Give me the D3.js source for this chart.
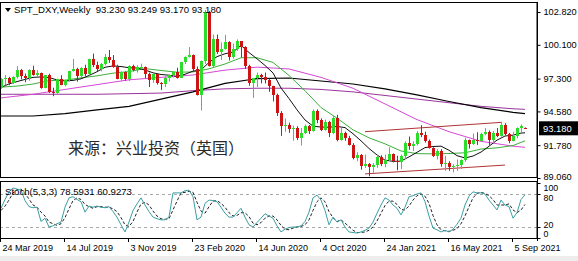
<!DOCTYPE html>
<html>
<head>
<meta charset="utf-8">
<script src="https://cdn.jsdelivr.net/npm/d3@7"></script>
<style>
  html, body { margin: 0; padding: 0; background: #fff; }
  svg { display: block; font-family: "Liberation Sans", Arial, sans-serif; }
</style>
</head>
<body>
<svg id="chart" width="578" height="261"></svg>
<script>
// weekly bars, first bar = week starting Sun 24 Mar 2019
const firstWeek = new Date(2019, 2, 24);

const opens = [
  96.62, 97.27, 97.39, 96.93, 97.40, 98.01, 97.49, 97.33, 97.99, 97.61,
  97.75, 96.53, 97.57, 96.21, 96.13, 97.29, 96.80, 97.16, 97.92, 98.09,
  97.50, 98.15, 97.66, 98.92, 98.40, 98.08, 98.52, 99.13, 98.83, 98.30,
  97.28, 97.83, 97.25, 98.35, 97.99, 98.27, 98.27, 97.68, 97.18, 97.66,
  96.93, 96.84, 97.36, 97.58, 97.87, 97.39, 98.69, 99.11, 99.26, 98.13,
  95.97, 98.75, 102.82, 98.37, 100.61, 99.52, 99.76, 100.37, 99.07, 99.74,
  100.38, 99.88, 98.34, 96.94, 97.33, 97.62, 97.43, 97.20, 96.65, 95.94,
  94.44, 93.35, 93.44, 93.09, 93.24, 92.36, 92.82, 93.33, 92.93, 94.64,
  93.84, 93.06, 93.68, 92.77, 94.04, 92.23, 92.77, 92.39, 91.79, 90.70,
  90.98, 90.02, 90.24, 89.94, 90.10, 90.77, 90.23, 90.58, 91.03, 90.48,
  90.35, 90.88, 91.98, 91.68, 91.91, 92.77, 92.59, 92.16, 91.56, 90.86,
  91.28, 90.22, 90.31, 89.98, 90.03, 90.13, 90.55, 92.23, 91.84, 92.23,
  92.12, 92.69, 92.90, 92.17, 92.78, 92.52, 93.49, 92.68, 92.13, 92.58,
  93.20, 93.23
];
const highs = [
  97.35, 97.60, 97.45, 97.50, 98.33, 98.10, 97.72, 98.07, 98.37, 98.00,
  97.80, 97.60, 97.70, 96.55, 97.30, 97.58, 97.20, 97.95, 98.93, 98.20,
  98.25, 98.45, 98.95, 99.37, 98.70, 98.60, 99.35, 99.67, 99.25, 98.45,
  97.90, 97.90, 98.40, 98.45, 98.40, 98.54, 98.30, 97.80, 97.70, 97.70,
  97.00, 97.50, 97.65, 97.90, 98.20, 98.70, 99.15, 99.91, 99.30, 98.30,
  98.80, 102.99, 102.90, 100.95, 100.95, 100.30, 100.93, 100.40, 100.20, 100.55,
  100.40, 99.98, 98.45, 97.10, 97.80, 97.70, 97.80, 97.30, 96.70, 96.05,
  94.60, 93.99, 93.65, 93.40, 93.35, 93.20, 93.50, 93.45, 94.75, 94.75,
  94.00, 93.90, 93.80, 94.20, 94.30, 93.20, 92.90, 92.55, 91.95, 91.20,
  91.05, 91.00, 90.30, 90.30, 90.95, 90.95, 91.00, 91.60, 91.10, 90.90,
  91.00, 92.10, 92.50, 92.10, 92.95, 93.44, 92.90, 92.25, 91.60, 91.45,
  91.45, 90.90, 90.45, 90.20, 90.60, 90.60, 92.40, 92.25, 92.75, 92.85,
  92.80, 93.20, 93.00, 92.95, 93.20, 93.73, 93.60, 92.80, 92.90, 93.25,
  93.50, 93.249
];
const lows = [
  96.45, 96.75, 96.75, 96.85, 97.30, 97.23, 97.00, 97.12, 97.55, 97.45,
  96.46, 96.50, 96.11, 95.84, 96.05, 96.75, 96.65, 97.05, 97.88, 97.05,
  97.35, 97.50, 97.55, 98.25, 97.90, 97.90, 98.40, 98.60, 98.20, 97.25,
  97.11, 97.12, 97.10, 97.90, 97.80, 98.10, 97.35, 96.60, 96.95, 96.80,
  96.36, 96.60, 97.05, 97.40, 97.30, 97.35, 98.50, 99.05, 97.85, 95.90,
  94.65, 98.50, 98.30, 98.20, 99.35, 98.85, 99.70, 98.80, 98.95, 99.60,
  99.05, 98.10, 96.70, 95.70, 96.60, 96.90, 96.90, 96.20, 95.40, 94.20,
  92.55, 92.90, 92.80, 92.15, 92.20, 91.75, 92.70, 92.70, 92.90, 93.60,
  92.95, 92.98, 92.45, 92.70, 92.10, 92.15, 92.15, 91.75, 90.60, 90.45,
  89.75, 89.90, 89.20, 89.50, 89.90, 90.05, 89.95, 90.45, 90.35, 89.70,
  89.80, 90.65, 91.40, 91.30, 91.75, 92.45, 92.00, 91.50, 90.80, 90.60,
  90.00, 89.65, 89.65, 89.53, 89.65, 89.80, 90.40, 91.50, 91.80, 91.80,
  92.05, 92.60, 91.80, 91.95, 92.45, 92.50, 92.60, 91.94, 92.10, 92.35,
  92.85, 93.17
];
const closes = [
  97.27, 97.39, 96.93, 97.40, 98.01, 97.49, 97.33, 97.99, 97.61, 97.75,
  96.53, 97.57, 96.21, 96.13, 97.29, 96.80, 97.16, 97.92, 98.09, 97.50,
  98.15, 97.66, 98.92, 98.40, 98.08, 98.52, 99.13, 98.83, 98.30, 97.28,
  97.83, 97.25, 98.35, 97.99, 98.27, 98.27, 97.68, 97.18, 97.66, 96.93,
  96.84, 97.36, 97.58, 97.87, 97.39, 98.69, 99.11, 99.26, 98.13, 95.97,
  98.75, 102.82, 98.37, 100.61, 99.52, 99.76, 100.37, 99.07, 99.74, 100.38,
  99.88, 98.34, 96.94, 97.33, 97.62, 97.43, 97.20, 96.65, 95.94, 94.44,
  93.35, 93.44, 93.09, 93.24, 92.36, 92.82, 93.33, 92.93, 94.64, 93.84,
  93.06, 93.68, 92.77, 94.04, 92.23, 92.77, 92.39, 91.79, 90.70, 90.98,
  90.02, 90.24, 89.94, 90.10, 90.77, 90.23, 90.58, 91.03, 90.48, 90.35,
  90.88, 91.98, 91.68, 91.91, 92.77, 92.59, 92.16, 91.56, 90.86, 91.28,
  90.22, 90.31, 89.98, 90.03, 90.13, 90.55, 92.23, 91.84, 92.23, 92.12,
  92.69, 92.90, 92.17, 92.78, 92.52, 93.49, 92.68, 92.13, 92.58, 93.20,
  93.33, 93.18
];

// moving averages: [bar index, value]
const ma10 = [
  [0, 96.57], [2, 96.86], [4, 97.05], [6, 97.23], [8, 97.40], [10, 97.44], [12, 97.39],
  [14, 97.19], [16, 97.10], [18, 97.15], [20, 97.28], [22, 97.56], [24, 97.87], [26, 98.24],
  [28, 98.35], [30, 98.30], [32, 98.20], [34, 98.18], [36, 98.01], [38, 97.78], [40, 97.64],
  [42, 97.58], [44, 97.48], [46, 97.66], [48, 97.92], [50, 98.01], [52, 98.64], [54, 99.12],
  [56, 99.36], [58, 99.50], [60, 100.05], [62, 99.46], [64, 98.94], [66, 98.39], [68, 97.77],
  [70, 96.52], [72, 95.65], [74, 94.71], [76, 93.87], [78, 93.36], [80, 93.28], [82, 93.27],
  [84, 93.33], [86, 93.24], [88, 92.73], [90, 92.14], [92, 91.51], [94, 90.97], [96, 90.54],
  [98, 90.44], [100, 90.46], [102, 90.81], [104, 91.19], [106, 91.58], [108, 91.67], [110, 91.70],
  [112, 91.36], [114, 90.91], [116, 90.72], [118, 90.88], [120, 91.21], [122, 91.69], [124, 92.20],
  [126, 92.54], [128, 92.61], [130, 92.78], [131, 92.81]
];
const ma20 = [
  [0, 96.59], [4, 96.68], [8, 96.85], [12, 97.13], [16, 97.17], [20, 97.36], [24, 97.53],
  [28, 97.75], [32, 97.88], [36, 98.13], [40, 97.97], [44, 97.83], [48, 97.85], [52, 98.11],
  [56, 98.51], [60, 99.03], [64, 99.03], [68, 98.64], [72, 97.56], [76, 96.29], [80, 94.90],
  [84, 94.02], [88, 93.05], [92, 92.39], [96, 91.89], [100, 91.30], [104, 91.08], [108, 91.06],
  [112, 91.09], [116, 91.15], [120, 91.46], [124, 91.56], [128, 91.75], [131, 92.14]
];
const ma50 = [
  [0, 95.70], [8, 96.00], [16, 96.40], [24, 96.80], [32, 97.20], [40, 97.40], [48, 97.60],
  [56, 98.00], [64, 98.25], [72, 98.10], [80, 97.40], [88, 96.50], [96, 95.20], [104, 93.90],
  [112, 92.90], [120, 92.10], [128, 91.70], [131, 91.60]
];
const ma100 = [
  [0, 94.20], [8, 94.20], [16, 94.40], [24, 94.70], [32, 95.00], [40, 95.60], [48, 96.20],
  [56, 96.90], [64, 97.30], [72, 97.35], [80, 97.10], [88, 96.85], [96, 96.45], [104, 95.95],
  [112, 95.40], [120, 94.90], [128, 94.50], [131, 94.40]
];
const ma200 = [
  [0, 96.00], [8, 96.00], [16, 96.00], [24, 96.00], [32, 96.05], [40, 96.10], [48, 96.30],
  [56, 96.45], [64, 96.50], [72, 96.50], [80, 96.40], [88, 96.20], [96, 95.90], [104, 95.60],
  [112, 95.30], [120, 95.00], [128, 94.80], [131, 94.75]
];

// trend channel drawn on the chart: [bar index, price]
const channelUpper = [[91, 92.90], [125, 93.67]];
const channelLower = [[91, 89.40], [126, 90.13]];

// Stoch(5,3,3), main and signal
const stochK = [
  54, 70, 84, 91, 89, 87, 68, 57, 55, 56, 30, 36, 20, 22, 26, 29, 56, 73, 75, 70,
  66, 47, 58, 56, 58, 56, 55, 57, 48, 38, 24, 11, 29, 50, 62, 73, 60, 48, 38, 35,
  33, 33, 38, 82, 82, 82, 86, 87, 75, 33, 38, 63, 69, 68, 66, 56, 45, 38, 38, 46,
  54, 38, 24, 20, 28, 36, 44, 40, 36, 22, 11, 16, 19, 20, 20, 22, 30, 47, 73, 78,
  69, 50, 24, 38, 29, 33, 20, 11, 10, 9, 11, 14, 18, 29, 45, 60, 73, 69, 60, 54,
  42, 56, 75, 77, 80, 82, 66, 40, 18, 15, 11, 14, 11, 16, 25, 36, 60, 76, 84, 82,
  82, 80, 69, 60, 51, 69, 60, 57, 36, 46, 70, 78.59
];
const stochD = [
  50, 58, 69, 82, 88, 89, 81, 71, 60, 56, 47, 40, 29, 26, 23, 26, 37, 53, 68, 73,
  70, 61, 57, 54, 57, 57, 56, 56, 53, 48, 37, 24, 21, 30, 47, 62, 65, 60, 49, 40,
  35, 34, 35, 51, 67, 82, 83, 85, 83, 65, 49, 45, 57, 67, 68, 63, 56, 46, 40, 41,
  46, 46, 39, 27, 24, 28, 36, 40, 40, 33, 23, 16, 15, 18, 20, 21, 24, 33, 50, 66,
  73, 66, 48, 37, 30, 33, 27, 21, 14, 10, 10, 11, 14, 20, 31, 45, 59, 67, 67, 61,
  52, 51, 58, 69, 77, 80, 76, 63, 41, 24, 15, 13, 12, 14, 17, 26, 40, 57, 73, 81,
  83, 81, 77, 70, 60, 60, 60, 62, 51, 46, 51, 60.93
];

const priceTicks = [89.06, 91.78, 94.58, 97.30, 100.10, 102.82];
const stochTicks = [100, 80, 20, 0];
const stochLevels = [80, 20];
const dateTicks = ["24 Mar 2019", "14 Jul 2019", "3 Nov 2019", "23 Feb 2020", "14 Jun 2020",
  "4 Oct 2020", "24 Jan 2021", "16 May 2021", "5 Sep 2021"];
const lastPrice = 93.18;
const title = "SPT_DXY,Weekly  93.230 93.249 93.170 93.180";
const stochTitle = "Stoch(5,3,3) 78.5931 60.9273";
const sourceNote = "来源：兴业投资（英国）";

// layout
const W = 578, H = 261;
const plotRight = 537;
const main = { top: 2, bottom: 177 };
const sub = { top: 181, bottom: 238 };

const svg = d3.select("#chart");

const weeks = d3.timeWeek.range(firstWeek, d3.timeWeek.offset(firstWeek, closes.length));
const bars = weeks.map((d, i) => ({ date: d, o: opens[i], h: highs[i], l: lows[i], c: closes[i] }));

const x = d3.scaleBand()
  .domain(weeks)
  .range([-1, -1 + 4 * weeks.length]);
const cx = d => x(d) + x.bandwidth() / 2;
const cxi = i => cx(weeks[i]);

const y = d3.scaleLinear().domain([89.06, 102.82]).range([178, 12]);
const ys = d3.scaleLinear().domain([0, 100]).range([238, 183]);

// background + bottom strip
svg.append("rect").attr("width", W).attr("height", H).attr("fill", "#fff");
svg.append("rect").attr("x", 0).attr("y", 256).attr("width", W).attr("height", 5).attr("fill", "#ededed");

const defs = svg.append("defs");
defs.append("clipPath").attr("id", "clipMain")
  .append("rect").attr("x", 0).attr("y", main.top).attr("width", plotRight).attr("height", main.bottom - main.top);
defs.append("clipPath").attr("id", "clipSub")
  .append("rect").attr("x", 0).attr("y", sub.top).attr("width", plotRight).attr("height", sub.bottom - sub.top);

// ---- main panel ----
const gMain = svg.append("g").attr("clip-path", "url(#clipMain)");

const lineIdx = d3.line().x(d => cxi(d[0])).y(d => y(d[1]));

const maStyles = [
  { data: ma200, color: "#9b339b", width: 1 },
  { data: ma100, color: "#000", width: 1.2 },
  { data: ma50, color: "#d548d5", width: 1 },
  { data: ma20, color: "#3bb03b", width: 1 },
  { data: ma10, color: "#111", width: 1 }
];
maStyles.forEach(m => {
  gMain.append("path")
    .attr("d", lineIdx(m.data))
    .attr("fill", "none")
    .attr("stroke", m.color)
    .attr("stroke-width", m.width);
});

[channelUpper, channelLower].forEach(c => {
  gMain.append("path")
    .attr("d", lineIdx(c))
    .attr("fill", "none")
    .attr("stroke", "#b03434")
    .attr("stroke-width", 1);
});

// candles
const upColor = "#2bdc2b", downColor = "#cc1414";
const candle = gMain.selectAll(".candle").data(bars).join("g").attr("class", "candle");
candle.append("line")
  .attr("x1", d => Math.round(cx(d.date)) + 0.5)
  .attr("x2", d => Math.round(cx(d.date)) + 0.5)
  .attr("y1", d => y(d.h))
  .attr("y2", d => y(d.l))
  .attr("stroke", d => d.c >= d.o ? upColor : downColor)
  .attr("stroke-width", 1);
candle.append("rect")
  .attr("x", d => Math.round(cx(d.date)) - 1)
  .attr("width", 3)
  .attr("y", d => y(Math.max(d.o, d.c)))
  .attr("height", d => Math.max(1, Math.abs(y(d.o) - y(d.c))))
  .attr("fill", d => d.c >= d.o ? upColor : downColor)
  .attr("shape-rendering", "crispEdges");

// source note
svg.append("text")
  .attr("x", 156).attr("y", 154)
  .attr("text-anchor", "middle")
  .attr("font-family", "'Noto Sans CJK SC', sans-serif")
  .attr("font-size", 16)
  .attr("fill", "#2a2a2a")
  .text(sourceNote);

// title
svg.append("path")
  .attr("d", "M5,8 L11,8 L8,12 Z")
  .attr("fill", "#000");
svg.append("text")
  .attr("x", 14).attr("y", 13)
  .attr("font-size", 9.6)
  .attr("fill", "#000")
  .attr("xml:space", "preserve")
  .style("white-space", "pre")
  .text(title);

// ---- stochastic panel ----
const gSub = svg.append("g").attr("clip-path", "url(#clipSub)");
stochLevels.forEach(v => {
  gSub.append("line")
    .attr("x1", 0).attr("x2", plotRight)
    .attr("y1", Math.round(ys(v)) + 0.5).attr("y2", Math.round(ys(v)) + 0.5)
    .attr("stroke", "#a8a8a8")
    .attr("stroke-dasharray", "3,3");
});
const stochLine = d3.line().x((d, i) => cxi(i)).y(d => ys(d));
gSub.append("path")
  .attr("d", stochLine(stochD))
  .attr("fill", "none")
  .attr("stroke", "#222")
  .attr("stroke-dasharray", "3,2")
  .attr("stroke-width", 1);
gSub.append("path")
  .attr("d", stochLine(stochK))
  .attr("fill", "none")
  .attr("stroke", "#3a9fa3")
  .attr("stroke-width", 1);

svg.append("text")
  .attr("x", 5).attr("y", 195)
  .attr("font-size", 9.6)
  .attr("fill", "#000")
  .text(stochTitle);

// ---- frames ----
[main, sub].forEach(p => {
  svg.append("rect")
    .attr("x", 0.5).attr("y", p.top + 0.5)
    .attr("width", plotRight - 0.5).attr("height", p.bottom - p.top)
    .attr("fill", "none")
    .attr("stroke", "#000")
    .attr("stroke-width", 1);
});

// ---- right axes ----
const yAxis = svg.append("g")
  .attr("transform", `translate(${plotRight + 0.5},0)`)
  .call(d3.axisRight(y).tickValues(priceTicks).tickFormat(d3.format(".3f")).tickSize(3).tickPadding(3));
const sAxis = svg.append("g")
  .attr("transform", `translate(${plotRight + 0.5},0)`)
  .call(d3.axisRight(ys).tickValues(stochTicks).tickFormat(d3.format("d")).tickSize(3).tickPadding(3));
[yAxis, sAxis].forEach(a => {
  a.select(".domain").remove();
  a.selectAll("text").attr("font-size", 9.2).attr("fill", "#000").attr("font-family", "'Liberation Sans', Arial, sans-serif");
  a.selectAll("line").attr("stroke", "#000");
});
// bottom price label sits a touch higher, as in the terminal
yAxis.selectAll(".tick text").attr("dy", d => d === priceTicks[0] ? "0.2em" : "0.32em");
// stoch labels squeezed inside the panel like the terminal does
sAxis.selectAll(".tick text")
  .attr("font-size", 8.8)
  .attr("dy", d => d === 100 ? "0.8em" : d === 80 ? "0.7em" : d === 20 ? "0em" : "-0.12em");

svg.append("line")
  .attr("x1", plotRight + 0.5).attr("x2", plotRight + 0.5)
  .attr("y1", main.top).attr("y2", sub.bottom + 3)
  .attr("stroke", "#000");

// last price marker
const lp = svg.append("g").attr("transform", `translate(${plotRight + 2},${y(lastPrice)})`);
lp.append("rect").attr("x", 0).attr("y", -7).attr("width", 39).attr("height", 14).attr("fill", "#000");
lp.append("text")
  .attr("x", 4).attr("y", 3.5)
  .attr("font-size", 9.4)
  .attr("fill", "#fff")
  .text(d3.format(".3f")(lastPrice));

// ---- date axis ----
const parseTick = d3.timeParse("%d %b %Y");
const xAxis = svg.append("g").attr("class", "x-axis");
dateTicks.forEach(t => {
  const d = parseTick(t);
  const px = Math.round(cx(d)) - 0.5;
  xAxis.append("line")
    .attr("x1", px).attr("x2", px)
    .attr("y1", sub.bottom).attr("y2", sub.bottom + 4)
    .attr("stroke", "#000");
  xAxis.append("text")
    .attr("x", px + 2).attr("y", 251)
    .attr("font-size", 9)
    .attr("fill", "#000")
    .text(t);
});
</script>
</body>
</html>
